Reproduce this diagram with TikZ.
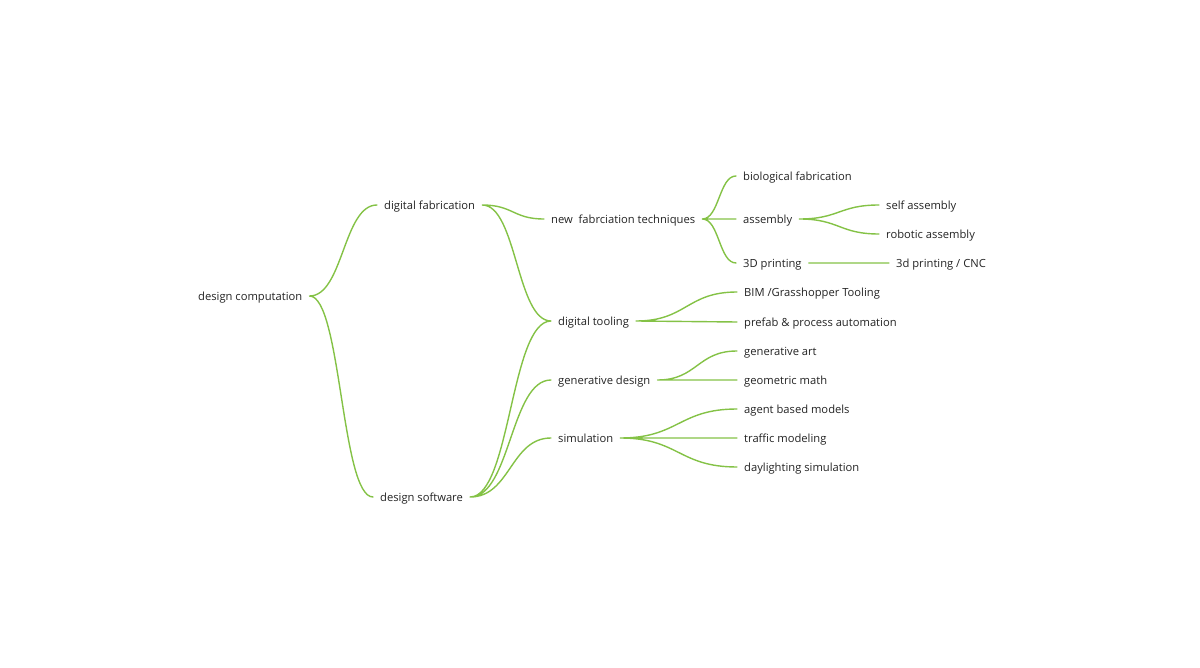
\documentclass[tikz,border=0pt]{standalone}
\usepackage{fontspec}
\setmainfont{Open Sans}
\usetikzlibrary{calc}
\definecolor{linkgreen}{RGB}{132,194,70}
\definecolor{txt}{RGB}{35,35,35}
\tikzset{
  topic/.style={anchor=west, inner xsep=7pt, inner ysep=0pt, text height=9pt, text depth=0pt,
    font=\fontsize{11.2}{13}\selectfont, text=txt},
  link/.style={draw=linkgreen, line width=1.4pt, line cap=round},
  branch/.style={to path={let \p1=(\tikztostart), \p2=(\tikztotarget) in
    .. controls ({0.5*\x1+0.5*\x2},\y1) and ({0.5*\x1+0.5*\x2},\y2) .. (\tikztotarget)}}
}
\begin{document}
\begin{tikzpicture}[x=1pt,y=-1pt]
\useasboundingbox (0,0) rectangle (1200,668);
\node[topic] (dc) at (191,296) {design computation};
\node[topic] (df) at (377,205) {digital fabrication};
\node[topic] (ds) at (373,497) {design software};
\node[topic] (nft) at (544,219) {new\ \ fabrciation techniques};
\node[topic] (dt) at (551,321) {digital tooling};
\node[topic] (gd) at (551,380) {generative design};
\node[topic] (sim) at (551,438) {simulation};
\node[topic] (bio) at (736,176) {biological fabrication};
\node[topic] (asm) at (736,219) {assembly};
\node[topic] (tdp) at (736,263) {3D printing};
\node[topic] (self) at (879,205) {self assembly};
\node[topic] (rob) at (879,234) {robotic assembly};
\node[topic] (cnc) at (889,263) {3d printing / CNC};
\node[topic] (bim) at (737,292) {BIM /Grasshopper Tooling};
\node[topic] (pre) at (737,322) {prefab \& process automation};
\node[topic] (ga) at (737,351) {generative art};
\node[topic] (gm) at (737,380) {geometric math};
\node[topic] (abm) at (737,409) {agent based models};
\node[topic] (tm) at (737,438) {traffic modeling};
\node[topic] (dls) at (737,467) {daylighting simulation};
\path[link]
  (dc.east) to[branch] (df.west)
  (dc.east) to[branch] (ds.west)
  (df.east) to[branch] (nft.west)
  (df.east) to[branch] (dt.west)
  (ds.east) to[branch] (dt.west)
  (ds.east) to[branch] (gd.west)
  (ds.east) to[branch] (sim.west)
  (nft.east) to[branch] (bio.west)
  (nft.east) to[branch] (asm.west)
  (nft.east) to[branch] (tdp.west)
  (asm.east) to[branch] (self.west)
  (asm.east) to[branch] (rob.west)
  (tdp.east) to[branch] (cnc.west)
  (dt.east) to[branch] (bim.west)
  (dt.east) to[branch] (pre.west)
  (gd.east) to[branch] (ga.west)
  (gd.east) to[branch] (gm.west)
  (sim.east) to[branch] (abm.west)
  (sim.east) to[branch] (tm.west)
  (sim.east) to[branch] (dls.west);
\end{tikzpicture}
\end{document}
